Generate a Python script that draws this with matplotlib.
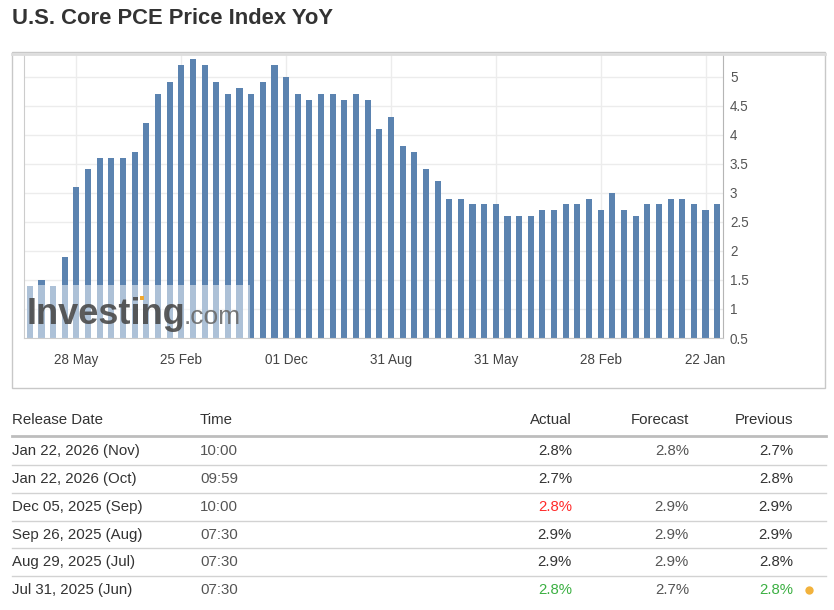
#!/usr/bin/env python3
"""U.S. Core PCE Price Index YoY - bar history plus the latest releases table."""

import matplotlib
matplotlib.use("Agg")
import matplotlib.pyplot as plt
from matplotlib.patches import Rectangle

plt.rcParams["font.family"] = ["Liberation Sans", "DejaVu Sans"]

# Bar history (YoY %), oldest first
values = [
    1.4, 1.5, 1.4, 1.9, 3.1, 3.4, 3.6, 3.6, 3.6, 3.7, 4.2, 4.7, 4.9, 5.2, 5.3, 5.2,
    4.9, 4.7, 4.8, 4.7, 4.9, 5.2, 5.0, 4.7, 4.6, 4.7, 4.7, 4.6, 4.7, 4.6, 4.1, 4.3,
    3.8, 3.7, 3.4, 3.2, 2.9, 2.9, 2.8, 2.8, 2.8, 2.6, 2.6, 2.6, 2.7, 2.7, 2.8, 2.8,
    2.9, 2.7, 3.0, 2.7, 2.6, 2.8, 2.8, 2.9, 2.9, 2.8, 2.7, 2.8,
]
x_tick_idx = [4, 13, 22, 31, 40, 49, 58]
x_tick_labels = ["28 May", "25 Feb", "01 Dec", "31 Aug", "31 May", "28 Feb", "22 Jan"]
y_ticks = [0.5, 1, 1.5, 2, 2.5, 3, 3.5, 4, 4.5, 5]
y_tick_labels = ["0.5", "1", "1.5", "2", "2.5", "3", "3.5", "4", "4.5", "5"]

# Releases table
columns = ["Release Date", "Time", "Actual", "Forecast", "Previous"]
release_dates = ["Jan 22, 2026 (Nov)", "Jan 22, 2026 (Oct)", "Dec 05, 2025 (Sep)",
                 "Sep 26, 2025 (Aug)", "Aug 29, 2025 (Jul)", "Jul 31, 2025 (Jun)"]
times = ["10:00", "09:59", "10:00", "07:30", "07:30", "07:30"]
actual = ["2.8%", "2.7%", "2.8%", "2.9%", "2.9%", "2.8%"]
forecast = ["2.8%", "", "2.9%", "2.9%", "2.9%", "2.7%"]
previous = ["2.7%", "2.8%", "2.9%", "2.9%", "2.8%", "2.8%"]
actual_colors = ["#333333", "#333333", "#ff2b2b", "#333333", "#333333", "#3cb043"]
previous_colors = ["#333333", "#333333", "#333333", "#333333", "#333333", "#3cb043"]

W, H = 834, 610
BAR_COLOR = "#5b83b0"
PT = 72 / 100  # pixels -> points at dpi 100


def px_axes(left, top, right, bottom):
    return [left / W, 1 - bottom / H, (right - left) / W, (bottom - top) / H]


fig = plt.figure(figsize=(W / 100, H / 100), dpi=100)

# ---- bar chart ----
ax = fig.add_axes(px_axes(24, 55, 723, 338), zorder=1)
ax.bar(range(len(values)), values, width=0.52, color=BAR_COLOR, zorder=2)
ax.set_xlim(-0.5, len(values) - 0.5)
ax.set_ylim(0.5, 5.37)
ax.set_xticks(x_tick_idx)
ax.set_xticklabels(x_tick_labels)
ax.set_yticks(y_ticks)
ax.set_yticklabels(y_tick_labels)
ax.yaxis.tick_right()
ax.tick_params(axis="both", length=0, labelsize=13.5 * PT, labelcolor="#444444")
ax.tick_params(axis="y", labelcolor="#555555")
ax.tick_params(axis="x", pad=11)
ax.tick_params(axis="y", pad=5)
ax.grid(True, color="#ececec", linewidth=1, zorder=0)
ax.set_axisbelow(True)
ax.spines["top"].set_visible(False)
for side in ("left", "bottom"):
    ax.spines[side].set_color("#cccccc")
ax.spines["right"].set_color("#b5b5b5")

# ---- overlay in pixel coordinates ----
ov = fig.add_axes([0, 0, 1, 1], zorder=5)
ov.set_xlim(0, W)
ov.set_ylim(H, 0)
ov.axis("off")
ov.patch.set_alpha(0)

ov.text(12, 18, "U.S. Core PCE Price Index YoY", fontsize=22 * PT, fontweight="bold",
        color="#333333", va="center", ha="left")

# chart frame
ov.add_patch(Rectangle((12, 52), 813, 336, fill=False, edgecolor="#c8c8c8", linewidth=1))
ov.plot([12, 825], [53.5, 53.5], color="#dddddd", linewidth=2)

# watermark
ov.add_patch(Rectangle((25, 285), 225, 53, facecolor="white", alpha=0.5, edgecolor="none"))
ov.text(27, 314, "Investing", fontsize=26, fontweight="bold", color="#4a4a4a",
        alpha=0.9, va="center", ha="left")
ov.text(184, 317, ".com", fontsize=19, color="#6a6a6a", alpha=0.9, va="center", ha="left")
ov.plot([142], [298], marker="s", markersize=3.5, color="#f0a830", markeredgewidth=0)

# ---- table ----
fs = 15 * PT
col_x = [12, 200, 572, 689, 793]
col_ha = ["left", "left", "right", "right", "right"]
header_y = 420
row_y = [451, 479, 507, 535, 562, 590]
sep_y = [465, 493, 521, 548, 576]

for name, x, ha in zip(columns, col_x, col_ha):
    ov.text(x, header_y, name, fontsize=fs, color="#333333", ha=ha, va="center")
ov.plot([12, 826], [436, 436], color="#bdbdbd", linewidth=2)
for y in sep_y:
    ov.plot([12, 826], [y, y], color="#d2d2d2", linewidth=1)

for i, y in enumerate(row_y):
    ov.text(col_x[0], y, release_dates[i], fontsize=fs, color="#333333", ha="left", va="center")
    ov.text(col_x[1], y, times[i], fontsize=fs, color="#555555", ha="left", va="center")
    ov.text(col_x[2], y, actual[i], fontsize=fs, color=actual_colors[i], ha="right", va="center")
    ov.text(col_x[3], y, forecast[i], fontsize=fs, color="#555555", ha="right", va="center")
    ov.text(col_x[4], y, previous[i], fontsize=fs, color=previous_colors[i], ha="right", va="center")

# pending-revision marker on the last row
ov.plot([809], [row_y[-1]], marker="o", markersize=6, color="#f2b23c", markeredgewidth=0)

fig.savefig("out.png", dpi=100)
